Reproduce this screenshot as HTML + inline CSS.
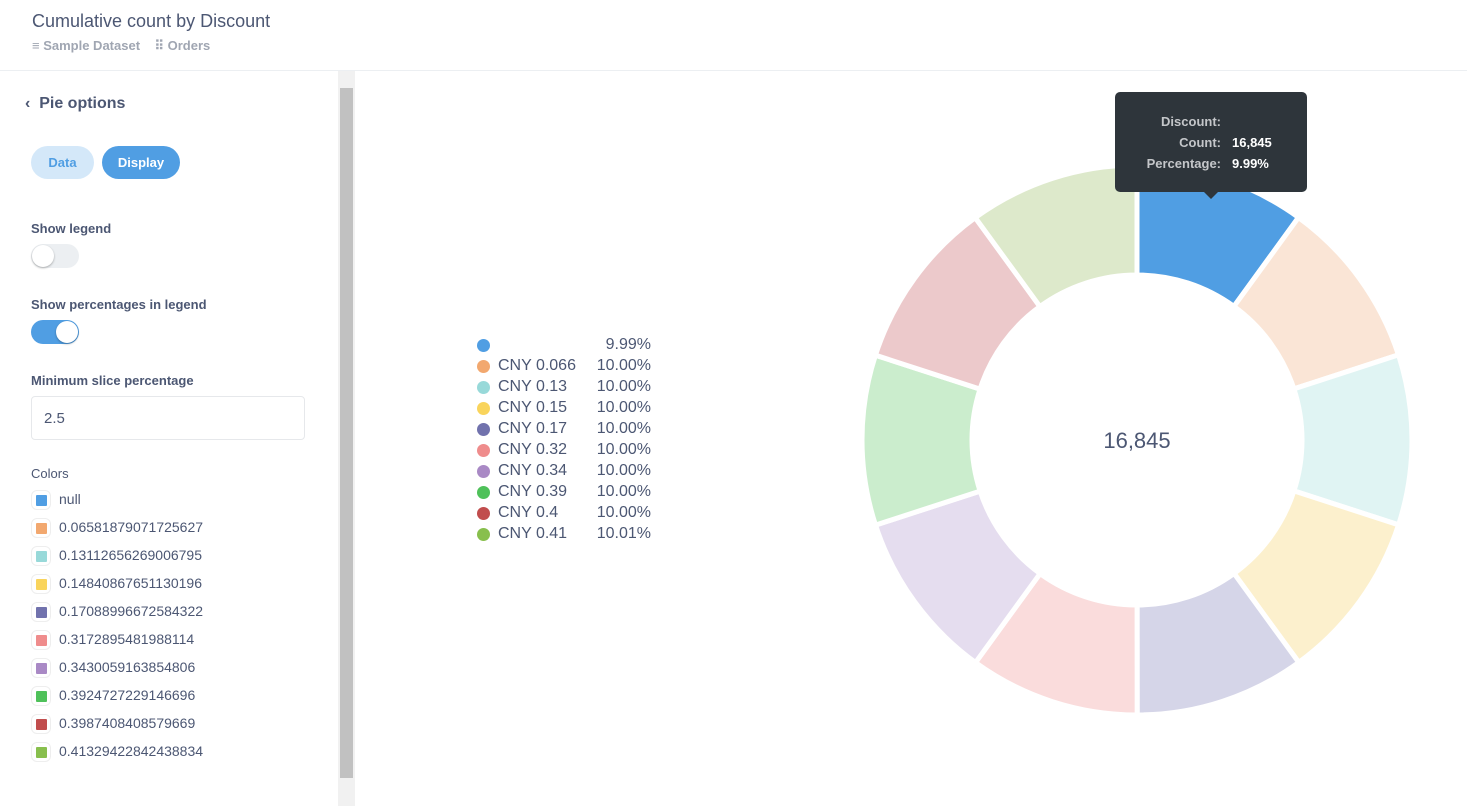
<!DOCTYPE html>
<html><head><meta charset="utf-8"><style>
*{box-sizing:border-box}
body{margin:0;width:1467px;height:806px;overflow:hidden;background:#fff;font-family:"Liberation Sans",sans-serif;color:#4c5773;position:relative}
.hdr{position:absolute;left:0;top:0;width:1467px;height:71px;border-bottom:1px solid #eceff2}
.title{position:absolute;left:32px;top:11px;font-size:18px;color:#4c5773}
.sub{position:absolute;left:32px;top:38px;font-size:13px;color:#a0a6b2;font-weight:bold}
.side{position:absolute;left:0;top:71px;width:355px;height:735px;border-right:1px solid #eceff2}
.sb{position:absolute;left:338px;top:71px;width:17px;height:735px;background:#f1f1f1}
.sb div{position:absolute;left:2px;top:17px;width:13px;height:690px;background:#c1c1c1}
.lbl{position:absolute;left:31px;font-size:13px;font-weight:bold;color:#4c5773}
.tog{position:absolute;left:31px;width:48px;height:24px;border-radius:12px}
.knob{position:absolute;top:1px;width:22px;height:22px;border-radius:50%;background:#fff;box-shadow:0 1px 2px rgba(0,0,0,.3)}
.sw{position:absolute;left:31px;width:20px;height:20px;border:1px solid #eee;border-radius:6px}
.sw i{position:absolute;left:4px;top:4px;width:11px;height:11px;border-radius:1px}
.ct{position:absolute;left:59px;font-size:14px;color:#4c5773}
.lg{position:absolute;left:477px;font-size:16px;color:#4c5773}
.lg i{position:absolute;left:0;top:3px;width:13px;height:13px;border-radius:50%}
.lg span{position:absolute;left:21px;white-space:nowrap}
.lg b{position:absolute;left:110px;width:64px;text-align:right;font-weight:normal}
</style></head><body>
<div class="hdr">
<div class="title">Cumulative count by Discount</div>
<div class="sub"><span>≡ Sample Dataset</span>&nbsp;&nbsp;&nbsp; <span>⠿ Orders</span></div>
</div>
<div class="side">
<div style="position:absolute;left:25px;top:24px;font-size:16px;font-weight:bold">‹&nbsp;&nbsp;Pie options</div>
<div style="position:absolute;left:31px;top:75px;width:63px;height:33px;border-radius:17px;background:#d4e8f9;color:#509ee3;font-size:13px;font-weight:bold;text-align:center;line-height:33px">Data</div>
<div style="position:absolute;left:102px;top:75px;width:78px;height:33px;border-radius:17px;background:#509ee3;color:#fff;font-size:13px;font-weight:bold;text-align:center;line-height:33px">Display</div>
<div class="lbl" style="top:150px">Show legend</div>
<div class="tog" style="top:173px;background:#eceff2"><div class="knob" style="left:1px"></div></div>
<div class="lbl" style="top:226px">Show percentages in legend</div>
<div class="tog" style="top:249px;background:#509ee3"><div class="knob" style="left:25px"></div></div>
<div class="lbl" style="top:302px">Minimum slice percentage</div>
<div style="position:absolute;left:31px;top:325px;width:274px;height:44px;border:1px solid #e6e8eb;border-radius:4px;padding:13px 12px;font-size:15px">2.5</div>
<div class="lbl" style="top:395px;font-weight:normal;font-size:13px">Colors</div>
<div id="cols"></div>
</div>
<div class="sb"><div></div></div>
<div id="legend"></div>
<svg id="pie" width="1467" height="806" style="position:absolute;left:0;top:0"></svg>
<div style="position:absolute;left:1115px;top:92px;width:192px;height:100px;background:#2e353b;border-radius:5px;font-size:13px;font-weight:bold">
<div style="position:absolute;right:86px;top:22px;color:#c4c6c9">Discount:</div>
<div style="position:absolute;right:86px;top:43px;color:#c4c6c9">Count:</div><div style="position:absolute;left:117px;top:43px;color:#fff">16,845</div>
<div style="position:absolute;right:86px;top:64px;color:#c4c6c9">Percentage:</div><div style="position:absolute;left:117px;top:64px;color:#fff">9.99%</div>
<div style="position:absolute;left:89px;top:100px;border:7px solid transparent;border-top-color:#2e353b;border-bottom:0"></div>
</div>
<script>
const labels=["","CNY 0.066","CNY 0.13","CNY 0.15","CNY 0.17","CNY 0.32","CNY 0.34","CNY 0.39","CNY 0.4","CNY 0.41"];
const keys=["null","0.06581879071725627","0.13112656269006795","0.14840867651130196","0.17088996672584322","0.3172895481988114","0.3430059163854806","0.3924727229146696","0.3987408408579669","0.41329422842438834"];
const percents=[9.99,10.00,10.00,10.00,10.00,10.00,10.00,10.00,10.00,10.01];
const colors=["#509ee3","#f2a86f","#98d9d9","#f9d45c","#7172ad","#ef8c8c","#a989c5","#4fc15a","#c14d4d","#88bf4d"];
const pale=["#509ee3","#fae5d6","#e0f4f3","#fcf0cd","#d5d5e8","#fadcdc","#e5ddef","#cbedcd","#ecc9cb","#dde9cb"];
const total="16,845";
const cols=document.getElementById('cols');
keys.forEach((k,i)=>{
 const y=419+i*28;
 const s=document.createElement('div');s.className='sw';s.style.top=y+'px';s.innerHTML='<i style="background:'+colors[i]+'"></i>';
 
 
 cols.appendChild(s);
 const t=document.createElement('div');t.className='ct';t.style.top=(y+1)+'px';t.textContent=k;
 
 
 cols.appendChild(t);
});
const lg=document.getElementById('legend');
labels.forEach((l,i)=>{
 const d=document.createElement('div');d.className='lg';d.style.top=(336+i*21)+'px';
 d.innerHTML='<i style="background:'+colors[i]+'"></i><span>'+l+'</span><b>'+percents[i].toFixed(2)+'%</b>';
 
 
 lg.appendChild(d);
});
const svg=document.getElementById('pie'),NS='http://www.w3.org/2000/svg';
const cx=1137,cy=440,R=275,r=165;
const sum=percents.reduce((a,b)=>a+b,0);
function pt(a,rad){return [cx+rad*Math.sin(a),cy-rad*Math.cos(a)];}
let a0=0;
percents.forEach((p,i)=>{
 const a1=a0+p/sum*2*Math.PI;
 const [x1,y1]=pt(a0,R),[x2,y2]=pt(a1,R),[x3,y3]=pt(a1,r),[x4,y4]=pt(a0,r);
 const lf=(a1-a0)>Math.PI?1:0;
 const path=document.createElementNS(NS,'path');
 path.setAttribute('d',`M${x1},${y1}A${R},${R} 0 ${lf} 1 ${x2},${y2}L${x3},${y3}A${r},${r} 0 ${lf} 0 ${x4},${y4}Z`);
 path.setAttribute('fill',pale[i]);path.setAttribute('stroke','#fff');path.setAttribute('stroke-width','5');
 
 
 svg.appendChild(path);a0=a1;
});
const t=document.createElementNS(NS,'text');
t.setAttribute('x',cx);t.setAttribute('y',cy+8);t.setAttribute('text-anchor','middle');t.setAttribute('font-size','22');t.setAttribute('fill','#4c5773');t.setAttribute('font-family','Liberation Sans, sans-serif');
t.textContent=total;


svg.appendChild(t);
</script>
</body></html>
